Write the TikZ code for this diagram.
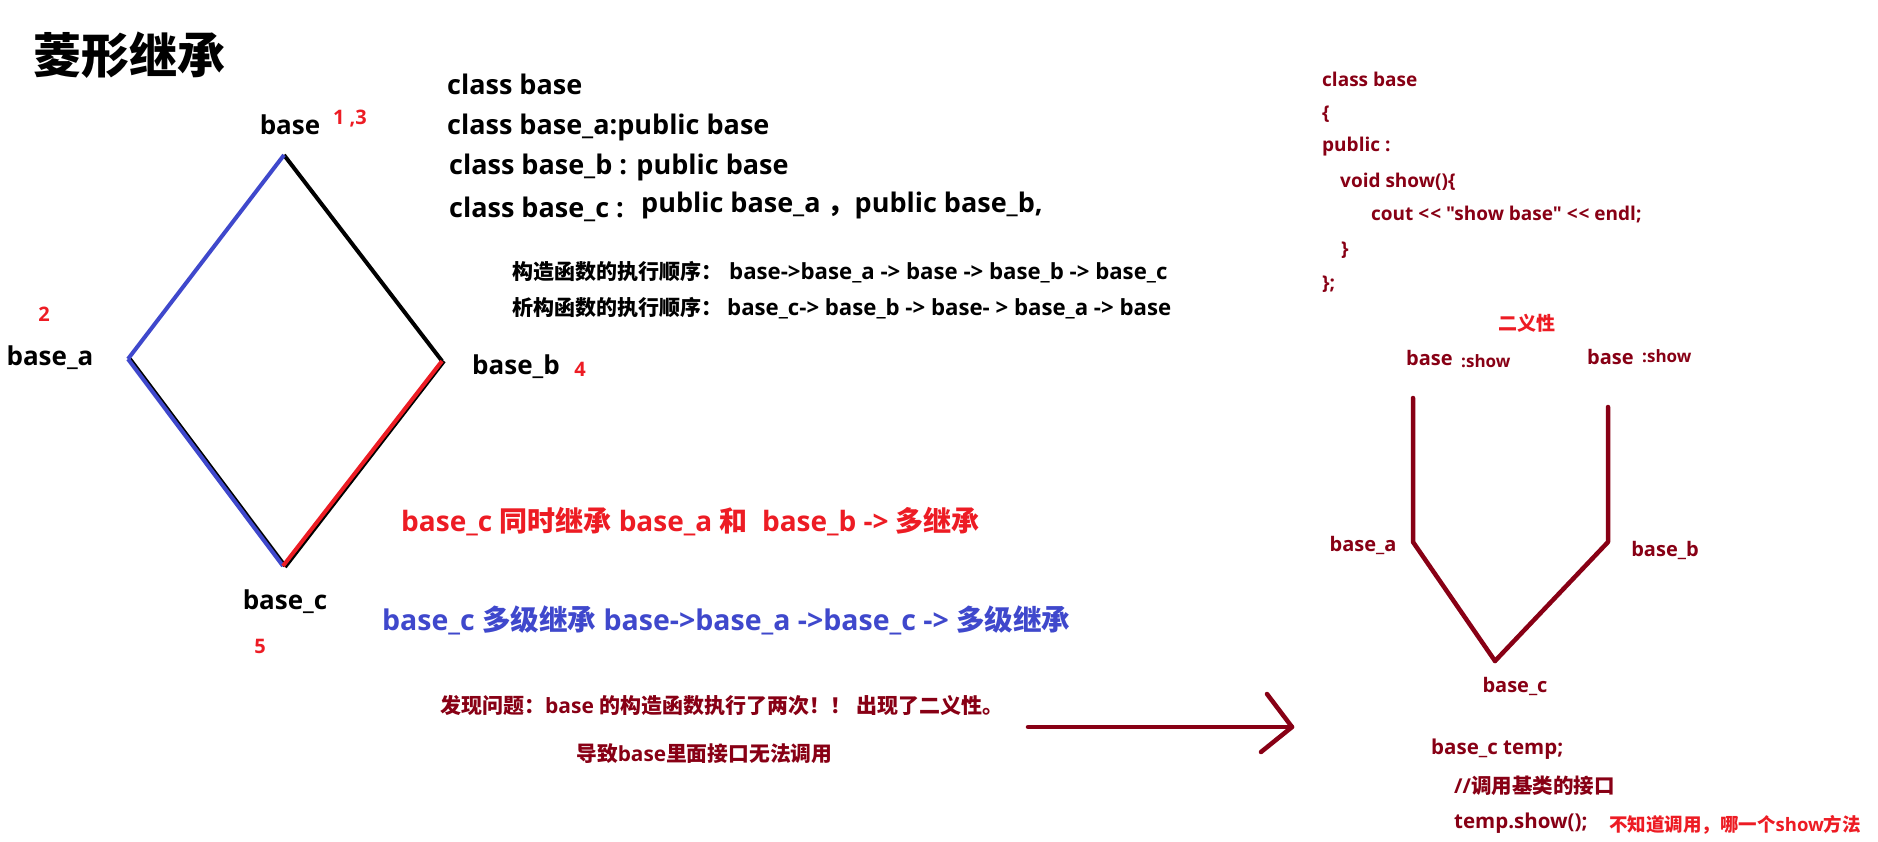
\documentclass[tikz,border=0pt]{standalone}
\usepackage{fontspec}
\setmainfont{Open Sans}
\newfontfamily\codefont{Open Sans}
\newfontfamily\cjk{Noto Sans CJK SC}
\newcommand\zhtxt[1]{{\cjk #1}}
\newcommand\fsz[1]{\fontsize{#1}{#1}\selectfont\bfseries}
\newcommand\lsz[1]{\fontsize{#1}{#1}\selectfont}
\definecolor{pblue}{RGB}{63,72,204}
\definecolor{pred}{RGB}{237,28,36}
\definecolor{dred}{RGB}{136,0,21}
\begin{document}
\begin{tikzpicture}[x=1pt,y=-1pt,
  every node/.style={inner sep=0pt},
  lbl/.style={font=\fsz{26}, text=black},
  num/.style={font=\fsz{20}, text=pred},
  cls/.style={anchor=west, font=\fsz{27}},
  order/.style={anchor=west, font=\fsz{21}},
  code/.style={anchor=west, font=\codefont\fsz{19}, text=dred},
  rlbl/.style={font=\fsz{20}, text=dred},
  edge/.style={line width=4pt},
  dline/.style={line width=4.5pt, draw=dred, line cap=round, line join=round}]
\useasboundingbox (0,0) rectangle (1878,842);
\fill[white] (0,0) rectangle (1878,842);

% title
\node[anchor=west, font=\fsz{48}] (title) at (33,55) {\zhtxt{菱形继承}};

% diamond
\coordinate (T) at (284,155);
\coordinate (L) at (128,359);
\coordinate (R) at (442,361);
\coordinate (B) at (283,566);
\draw[edge, black] (T) -- (R);
\draw[edge, black] ([xshift=2pt]R) -- ([xshift=2pt,yshift=-1pt]B);
\draw[edge, black] ([xshift=2pt]L) -- ([xshift=2pt]B);
\draw[edge, pblue] (L) -- (T);
\draw[edge, pblue] (L) -- (B);
\draw[edge, pred] (R) -- (B);

% diamond labels
\node[lbl] (nbase) at (290,125) {base};
\node[num] (n13) at (350,119) {1 ,3};
\node[num] (n2) at (44,314) {2};
\node[lbl] (nbasea) at (50,358) {base\_a};
\node[lbl] (nbaseb) at (516,367) {base\_b};
\node[num] (n4) at (580,369) {4};
\node[lbl] (nbasec) at (285,602) {base\_c};
\node[num] (n5) at (260,646) {5};

% class declarations
\node[cls] (c1) at (447,84) {class base};
\node[cls] (c2) at (447,127) {class base\_a:public base};
\node[cls] (c3) at (449,167) {class base\_b : public base};
\node[cls] (c4) at (449,209) {class base\_c :};
\node[cls] (c4b) at (641,205) {public base\_a \zhtxt{，}public base\_b,};

\node[order] (o1) at (512,272) {\zhtxt{构造函数的执行顺序：}\hspace{7pt}{\lsz{22.2}base->base\_a -> base -> base\_b -> base\_c}};
\node[order] (o2) at (512,308) {\zhtxt{析构函数的执行顺序：}\hspace{5pt}{\lsz{22.2}base\_c-> base\_b -> base- > base\_a -> base}};

% statements
\node[anchor=west, font=\fsz{28}, text=pred] (s1) at (401,522) {base\_c \zhtxt{同时继承} base\_a \zhtxt{和}\ \ base\_b -> \zhtxt{多继承}};
\node[anchor=west, font=\fsz{28.5}, text=pblue] (s2) at (382,620) {base\_c \zhtxt{多级继承} base->base\_a ->base\_c -> \zhtxt{多级继承}};
\node[anchor=west, font=\fsz{21}, text=dred] (s3) at (440,706) {\zhtxt{发现问题：}base \zhtxt{的构造函数执行了两次！！\ 出现了二义性。}};
\node[anchor=west, font=\fsz{20.8}, text=dred] (s4) at (576,754) {\zhtxt{导致}base\zhtxt{里面接口无法调用}};

% arrow
\coordinate (a1) at (1028,727);
\coordinate (a2) at (1292,727);
\coordinate (h1) at (1267,694);
\coordinate (h2) at (1261,752);
\draw[dline] (a1) -- (a2);
\draw[dline] (h1) -- (a2) -- (h2);

% code on the right
\node[code] (k1) at (1322,79) {class base};
\node[code] (k2) at (1322,114) {\{};
\node[code] (k3) at (1322,147) {public :};
\node[code] (k4) at (1340,182) {void show()\{};
\node[code] (k5) at (1371,215) {cout <\kern1pt< "show base" <\kern1pt< endl;};
\node[code] (k6) at (1341,250) {\}};
\node[code] (k7) at (1322,284) {\};};

\node[font=\fsz{19}, text=pred] (amb) at (1527,323) {\zhtxt{二义性}};

% right diagram
\node[rlbl, anchor=west] (bl) at (1406,358) {base};
\node[anchor=west, font=\fsz{17}, text=dred] (bls) at (1461,361) {:show};
\node[rlbl, anchor=west] (br) at (1587,357) {base};
\node[anchor=west, font=\fsz{17}, text=dred] (brs) at (1642,356) {:show};

\coordinate (A1) at (1413,398);
\coordinate (A2) at (1413,542);
\coordinate (C) at (1495,661);
\coordinate (B1) at (1608,407);
\coordinate (B2) at (1608,542);
\draw[dline] (A1) -- (A2) -- (C);
\draw[dline] (B1) -- (B2) -- (C);

\node[rlbl] (ra) at (1363,545) {base\_a};
\node[rlbl] (rb) at (1665,550) {base\_b};
\node[rlbl] (rc) at (1515,686) {base\_c};

% usage code
\node[anchor=west, font=\fsz{20.5}, text=dred] (u1) at (1431,749) {base\_c temp;};
\node[anchor=west, font=\fsz{20.5}, text=dred] (u2) at (1454,786) {//\zhtxt{调用基类的接口}};
\node[anchor=west, font=\fsz{20.5}, text=dred] (u3) at (1454,823) {temp.show();};
\node[anchor=west, font=\fsz{18.5}, text=pred] (u4) at (1609,825) {\zhtxt{不知道调用，哪一个}show\zhtxt{方法}};
\end{tikzpicture}
\end{document}
